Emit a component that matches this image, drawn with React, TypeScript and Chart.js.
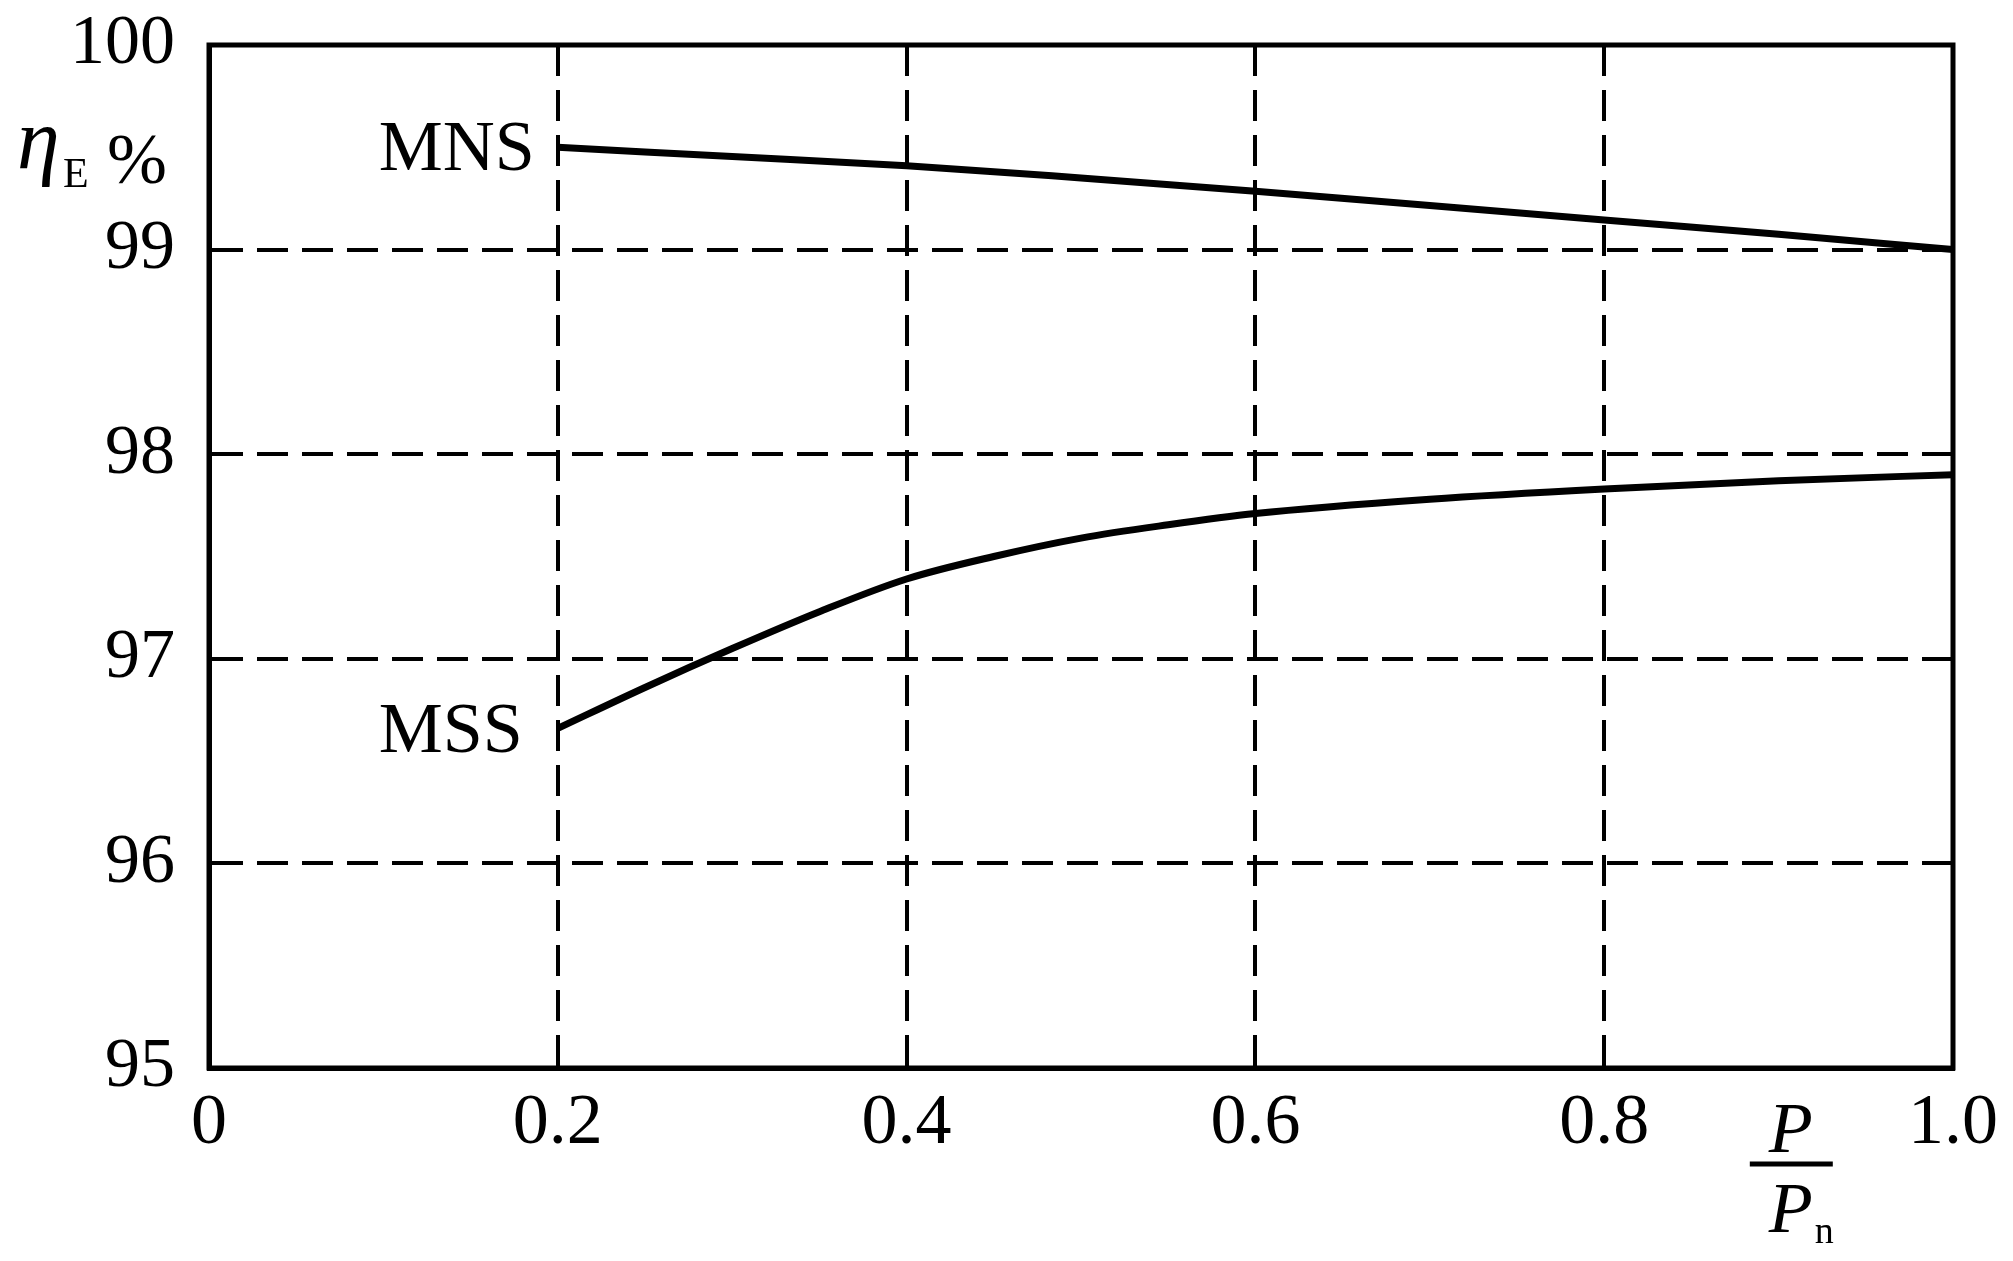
import React, { useEffect, useRef } from "react";
import { Chart, registerables } from "chart.js";

Chart.register(...registerables);

// ---- data ----
const xTickLabels = ["0", "0.2", "0.4", "0.6", "0.8", "1.0"];
const yTickLabels = ["95", "96", "97", "98", "99", "100"];
const seriesNames = ["MNS", "MSS"];

const mnsLoad = [0.2, 0.3, 0.4, 0.5, 0.6, 0.7, 0.8, 0.9, 1.0];
const mnsEff = [99.5, 99.455, 99.41, 99.35, 99.285, 99.215, 99.145, 99.075, 99.0];

const mssLoad = [0.2, 0.25, 0.3, 0.35, 0.4, 0.45, 0.5, 0.55, 0.6, 0.7, 0.8, 0.9, 1.0];
const mssEff = [96.66, 96.86, 97.05, 97.23, 97.39, 97.5, 97.59, 97.655, 97.71, 97.78, 97.83, 97.87, 97.9];

const FONT = '"Liberation Serif", "Times New Roman", serif';

const overlayPlugin = {
  id: "overlay",
  afterDraw(chart: any) {
    const { ctx, chartArea, scales } = chart;
    const xs = scales.x;
    const ys = scales.y;
    ctx.save();
    // frame box
    ctx.strokeStyle = "#000";
    ctx.lineWidth = 5;
    ctx.setLineDash([]);
    ctx.strokeRect(chartArea.left, chartArea.top, chartArea.right - chartArea.left, chartArea.bottom - chartArea.top);

    ctx.fillStyle = "#000";
    ctx.textBaseline = "alphabetic";

    // series labels
    ctx.font = `72px ${FONT}`;
    ctx.textAlign = "right";
    ctx.fillText(seriesNames[0], xs.getPixelForValue(mnsLoad[0]) - 23, ys.getPixelForValue(mnsEff[0]) + 23);
    ctx.fillText(seriesNames[1], xs.getPixelForValue(mssLoad[0]) - 35, ys.getPixelForValue(mssEff[0]) + 24);

    // y axis title: eta_E %
    const yAnchor = ys.getPixelForValue(99.44);
    const lx = chartArea.left - 192;
    ctx.textAlign = "left";
    ctx.font = `italic 86px ${FONT}`;
    ctx.fillText("η", lx, yAnchor + 8);
    ctx.font = `42px ${FONT}`;
    ctx.fillText("E", lx + 46, yAnchor + 27);
    ctx.font = `72px ${FONT}`;
    ctx.fillText("%", lx + 90, yAnchor + 23);

    // x axis title: P / Pn
    const cx = xs.getPixelForValue(0.907);
    const b = chartArea.bottom;
    ctx.textAlign = "center";
    ctx.font = `italic 72px ${FONT}`;
    ctx.fillText("P", cx, b + 84);
    ctx.fillText("P", cx, b + 164);
    ctx.lineWidth = 5;
    ctx.beginPath();
    ctx.moveTo(cx - 41, b + 96);
    ctx.lineTo(cx + 42, b + 96);
    ctx.stroke();
    ctx.textAlign = "left";
    ctx.font = `38px ${FONT}`;
    ctx.fillText("n", cx + 24, b + 175);
    ctx.restore();
  },
};

export default function App() {
  const canvasRef = useRef<HTMLCanvasElement | null>(null);

  useEffect(() => {
    if (!canvasRef.current) return;
    const dash = [31, 14];
    const chart = new Chart(canvasRef.current, {
      type: "line",
      data: {
        datasets: [
          {
            label: seriesNames[0],
            data: mnsLoad.map((x, i) => ({ x, y: mnsEff[i] })),
            borderColor: "#000",
            borderWidth: 7,
            pointRadius: 0,
            cubicInterpolationMode: "monotone",
            fill: false,
          },
          {
            label: seriesNames[1],
            data: mssLoad.map((x, i) => ({ x, y: mssEff[i] })),
            borderColor: "#000",
            borderWidth: 7,
            pointRadius: 0,
            cubicInterpolationMode: "monotone",
            fill: false,
          },
        ],
      },
      options: {
        animation: false,
        responsive: true,
        maintainAspectRatio: false,
        devicePixelRatio: 1,
        layout: { padding: { left: 0, top: 45, right: 60, bottom: 0 } },
        plugins: { legend: { display: false }, tooltip: { enabled: false } },
        scales: {
          x: {
            type: "linear",
            min: 0,
            max: 1,
            afterFit: (s: any) => {
              s.height = 193;
              s.paddingLeft = 0;
              s.paddingRight = 0;
              s.paddingTop = 0;
              s.paddingBottom = 0;
            },
            ticks: {
              stepSize: 0.2,
              color: "#000",
              padding: 20,
              maxRotation: 0,
              font: { family: FONT, size: 72, lineHeight: 1 },
              callback: (_v: any, i: number) => xTickLabels[i],
            },
            grid: {
              color: "#000",
              lineWidth: 4,
              drawTicks: false,
            },
            border: { display: true, color: "#000", width: 5, dash },
          },
          y: {
            type: "linear",
            min: 95,
            max: 100,
            afterFit: (s: any) => {
              s.width = 209;
              s.paddingLeft = 0;
              s.paddingRight = 0;
              s.paddingTop = 0;
              s.paddingBottom = 0;
            },
            ticks: {
              stepSize: 1,
              color: "#000",
              padding: 34,
              font: { family: FONT, size: 70, lineHeight: 1 },
              callback: (_v: any, i: number) => yTickLabels[i],
            },
            grid: {
              color: "#000",
              lineWidth: 4,
              drawTicks: false,
            },
            border: { display: true, color: "#000", width: 5, dash },
          },
        },
      } as any,
      plugins: [overlayPlugin],
    });
    return () => chart.destroy();
  }, []);

  return (
    <div style={{ position: "fixed", left: 0, top: 0, width: 2013, height: 1261, background: "#fff" }}>
      <canvas ref={canvasRef} />
    </div>
  );
}
